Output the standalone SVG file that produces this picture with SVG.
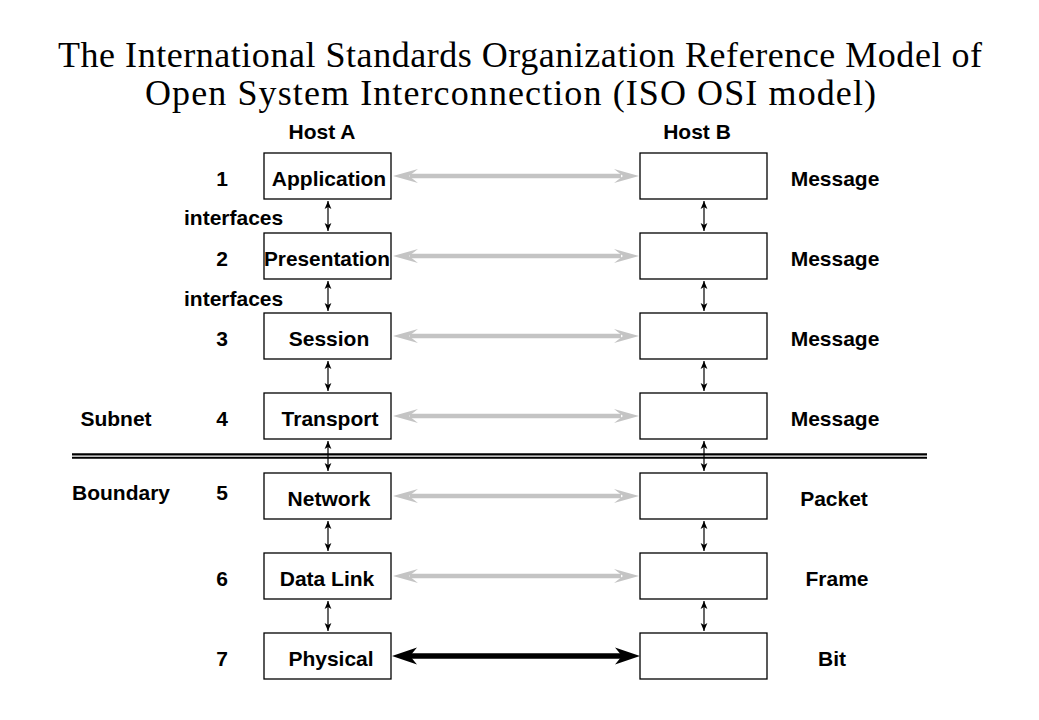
<svg xmlns="http://www.w3.org/2000/svg" width="1039" height="720" viewBox="0 0 1039 720">
<style>
.t{font-family:"Liberation Serif","Times New Roman",serif;font-size:36px;fill:#000}
.l{font-family:"Liberation Sans",Arial,sans-serif;font-weight:bold;font-size:21px;fill:#000}
.m{text-anchor:middle}
.box{fill:#fff;stroke:#000;stroke-width:1.3}
.v{stroke:#000;stroke-width:1.2;fill:none}
.g{stroke:#c4c4c4;stroke-width:4.5;fill:none}
.gh{fill:#c4c4c4}
</style>
<defs>
<marker id="va" viewBox="0 0 8 8" refX="8" refY="4" markerWidth="8" markerHeight="8" markerUnits="userSpaceOnUse" orient="auto-start-reverse">
<path d="M0,0.6 L8,4 L0,7.4 L2,4 Z" fill="#000"/>
</marker>
</defs>
<rect width="1039" height="720" fill="#fff"/>
<g id="title">
<text class="t" x="58" y="67" textLength="924" lengthAdjust="spacing">The International Standards Organization Reference Model of</text>
<text class="t" x="145" y="105" textLength="731" lengthAdjust="spacing">Open System Interconnection (ISO OSI model)</text>
</g>
<g id="headers">
<text class="l m" x="322" y="139">Host A</text>
<text class="l m" x="697" y="139">Host B</text>
</g>
<g id="boundary">
<line x1="72" y1="454.3" x2="927" y2="454.3" stroke="#000" stroke-width="2.2"/>
<line x1="72" y1="457.8" x2="927" y2="457.8" stroke="#000" stroke-width="2"/>
</g>
<g id="connectors">
<g id="peer-arrows">
<line class="g" x1="410" y1="176" x2="621" y2="176"/>
<line class="g" x1="410" y1="256" x2="621" y2="256"/>
<line class="g" x1="410" y1="336" x2="621" y2="336"/>
<line class="g" x1="410" y1="416" x2="621" y2="416"/>
<line class="g" x1="410" y1="496" x2="621" y2="496"/>
<line class="g" x1="410" y1="576" x2="621" y2="576"/>
<path class="gh" d="M393,176 L418,169 L409,176 L418,183 Z M639,176 L614,169 L623,176 L614,183 Z"/>
<path class="gh" d="M393,256 L418,249 L409,256 L418,263 Z M639,256 L614,249 L623,256 L614,263 Z"/>
<path class="gh" d="M393,336 L418,329 L409,336 L418,343 Z M639,336 L614,329 L623,336 L614,343 Z"/>
<path class="gh" d="M393,416 L418,409 L409,416 L418,423 Z M639,416 L614,409 L623,416 L614,423 Z"/>
<path class="gh" d="M393,496 L418,489 L409,496 L418,503 Z M639,496 L614,489 L623,496 L614,503 Z"/>
<path class="gh" d="M393,576 L418,569 L409,576 L418,583 Z M639,576 L614,569 L623,576 L614,583 Z"/>
<line x1="408" y1="656" x2="624" y2="656" stroke="#000" stroke-width="5.5"/>
<path d="M392,656 L417,647.5 L410,656 L417,664.5 Z M640,656 L615,647.5 L622,656 L615,664.5 Z" fill="#000"/>
</g>
<g id="interface-arrows">
<line class="v" x1="328" y1="201" x2="328" y2="231" marker-start="url(#va)" marker-end="url(#va)"/>
<line class="v" x1="328" y1="281" x2="328" y2="311" marker-start="url(#va)" marker-end="url(#va)"/>
<line class="v" x1="328" y1="361" x2="328" y2="391" marker-start="url(#va)" marker-end="url(#va)"/>
<line class="v" x1="328" y1="441" x2="328" y2="471" marker-start="url(#va)" marker-end="url(#va)"/>
<line class="v" x1="328" y1="521" x2="328" y2="551" marker-start="url(#va)" marker-end="url(#va)"/>
<line class="v" x1="328" y1="601" x2="328" y2="631" marker-start="url(#va)" marker-end="url(#va)"/>
<line class="v" x1="704" y1="201" x2="704" y2="231" marker-start="url(#va)" marker-end="url(#va)"/>
<line class="v" x1="704" y1="281" x2="704" y2="311" marker-start="url(#va)" marker-end="url(#va)"/>
<line class="v" x1="704" y1="361" x2="704" y2="391" marker-start="url(#va)" marker-end="url(#va)"/>
<line class="v" x1="704" y1="441" x2="704" y2="471" marker-start="url(#va)" marker-end="url(#va)"/>
<line class="v" x1="704" y1="521" x2="704" y2="551" marker-start="url(#va)" marker-end="url(#va)"/>
<line class="v" x1="704" y1="601" x2="704" y2="631" marker-start="url(#va)" marker-end="url(#va)"/>
</g>
</g>
<g id="layer1">
<text class="l m" x="222" y="186">1</text>
<rect class="box" x="264" y="153" width="127" height="46"/>
<text class="l m" x="329" y="186">Application</text>
<rect class="box" x="640" y="153" width="127" height="46"/>
<text class="l m" x="835" y="186">Message</text>
</g>
<g id="interfaces1"><text class="l" x="184" y="225">interfaces</text></g>
<g id="layer2">
<text class="l m" x="222" y="266">2</text>
<rect class="box" x="264" y="233" width="127" height="46"/>
<text class="l m" x="327" y="266" textLength="126" lengthAdjust="spacingAndGlyphs">Presentation</text>
<rect class="box" x="640" y="233" width="127" height="46"/>
<text class="l m" x="835" y="266">Message</text>
</g>
<g id="interfaces2"><text class="l" x="184" y="306">interfaces</text></g>
<g id="layer3">
<text class="l m" x="222" y="346">3</text>
<rect class="box" x="264" y="313" width="127" height="46"/>
<text class="l m" x="329" y="346">Session</text>
<rect class="box" x="640" y="313" width="127" height="46"/>
<text class="l m" x="835" y="346">Message</text>
</g>
<g id="layer4">
<text class="l m" x="116" y="426">Subnet</text>
<text class="l m" x="222" y="426">4</text>
<rect class="box" x="264" y="393" width="127" height="46"/>
<text class="l m" x="330" y="426">Transport</text>
<rect class="box" x="640" y="393" width="127" height="46"/>
<text class="l m" x="835" y="426">Message</text>
</g>
<g id="layer5">
<text class="l" x="72" y="500">Boundary</text>
<text class="l m" x="222" y="500">5</text>
<rect class="box" x="264" y="473" width="127" height="46"/>
<text class="l m" x="329" y="506">Network</text>
<rect class="box" x="640" y="473" width="127" height="46"/>
<text class="l m" x="834" y="506">Packet</text>
</g>
<g id="layer6">
<text class="l m" x="222" y="586">6</text>
<rect class="box" x="264" y="553" width="127" height="46"/>
<text class="l m" x="327" y="586">Data Link</text>
<rect class="box" x="640" y="553" width="127" height="46"/>
<text class="l m" x="837" y="586">Frame</text>
</g>
<g id="layer7">
<text class="l m" x="222" y="666">7</text>
<rect class="box" x="264" y="633" width="127" height="46"/>
<text class="l m" x="331" y="666">Physical</text>
<rect class="box" x="640" y="633" width="127" height="46"/>
<text class="l m" x="832" y="666">Bit</text>
</g>
</svg>
